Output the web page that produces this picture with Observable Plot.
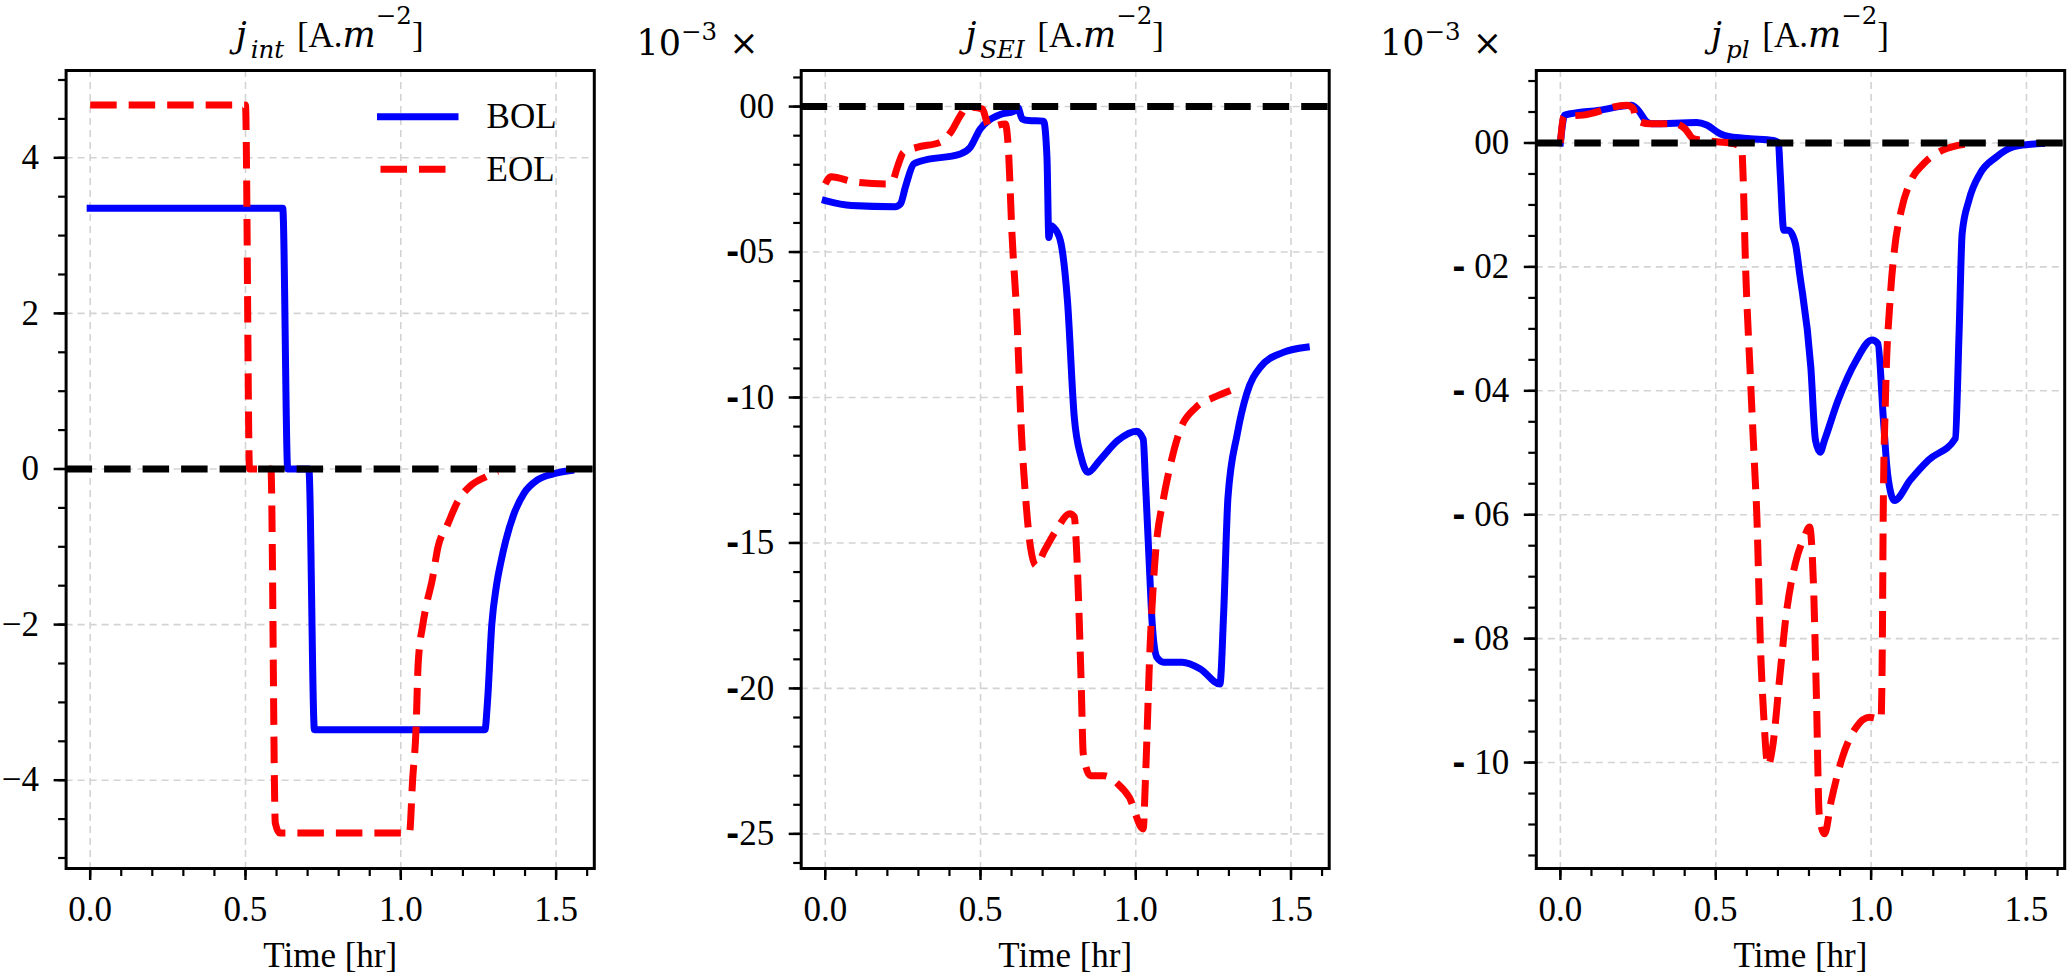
<!DOCTYPE html>
<html>
<head>
<meta charset="utf-8">
<script src="https://cdn.jsdelivr.net/npm/d3@7"></script>
<script src="https://cdn.jsdelivr.net/npm/@observablehq/plot@0.6"></script>
<style>
  html, body { margin: 0; padding: 0; background: #ffffff; }
  #wrap { position: relative; width: 2067px; height: 976px; overflow: hidden; background: #ffffff; }
  #wrap svg { position: absolute; top: 0; }
</style>
</head>
<body>
<div id="wrap"></div>
<script>
// ---------------- data ----------------
const seriesNames = ["BOL", "EOL"];

// Panel 1 : j_int [A.m^-2]
const intBOL_t = [0, 0.62, 0.636, 0.704, 0.722, 1.0, 1.271, 1.279, 1.293, 1.308, 1.322, 1.338, 1.365, 1.397, 1.44, 1.494, 1.547];
const intBOL_v = [3.35, 3.35, 0, 0, -3.35, -3.35, -3.35, -3.0, -2.0, -1.5, -1.2, -0.92, -0.57, -0.31, -0.14, -0.06, -0.02];
const intEOL_t = [0, 0.50, 0.513, 0.582, 0.596, 0.61, 1.028, 1.038, 1.049, 1.056, 1.071, 1.085, 1.10, 1.12, 1.15, 1.183, 1.226, 1.274, 1.312];
const intEOL_v = [4.68, 4.68, 0, 0, -4.55, -4.68, -4.68, -4.0, -3.35, -2.5, -2.0, -1.7, -1.45, -1.0, -0.72, -0.42, -0.21, -0.10, -0.03];

// Panel 2 : j_SEI [A.m^-2]  (x 10^-3)
const seiBOL_t = [0, 0.084, 0.225, 0.242, 0.258, 0.285, 0.306, 0.435, 0.467, 0.499, 0.526, 0.564, 0.607, 0.62, 0.634, 0.655, 0.703, 0.714, 0.72, 0.727, 0.735, 0.757, 0.78, 0.802, 0.824, 0.846, 0.883, 0.942, 1.002, 1.024, 1.031, 1.046, 1.053, 1.068, 1.09, 1.149, 1.208, 1.271, 1.283, 1.297, 1.327, 1.357, 1.401, 1.475, 1.549];
const seiBOL_v = [-3.23, -3.40, -3.44, -3.35, -2.77, -1.97, -1.88, -1.63, -1.40, -0.77, -0.48, -0.27, -0.16, -0.03, -0.42, -0.48, -0.50, -1.74, -4.5, -4.1, -4.15, -4.6, -6.67, -10.68, -12.05, -12.57, -12.17, -11.48, -11.16, -11.43, -12.86, -16.3, -17.78, -18.93, -19.1, -19.1, -19.33, -19.85, -17.44, -13.43, -11.25, -9.88, -8.96, -8.45, -8.27];
const seiEOL_t = [0, 0.018, 0.099, 0.195, 0.215, 0.232, 0.252, 0.295, 0.37, 0.408, 0.435, 0.457, 0.505, 0.528, 0.58, 0.59, 0.601, 0.617, 0.632, 0.646, 0.661, 0.679, 0.706, 0.743, 0.787, 0.802, 0.809, 0.824, 0.831, 0.854, 0.898, 0.942, 0.979, 1.024, 1.031, 1.046, 1.061, 1.09, 1.105, 1.142, 1.194, 1.253, 1.305];
const seiEOL_v = [-2.66, -2.41, -2.6, -2.66, -2.6, -2.09, -1.57, -1.40, -1.23, -0.82, -0.31, -0.02, -0.08, -0.7, -0.6, -1.51, -4.3, -7.24, -11.25, -13.54, -15.15, -15.78, -15.26, -14.58, -14.0, -14.1, -15.15, -19.73, -22.25, -23.0, -23.0, -23.28, -23.74, -24.83, -23.17, -18.59, -15.72, -13.43, -12.63, -11.14, -10.34, -9.99, -9.76];

// Panel 3 : j_pl [A.m^-2]  (x 10^-3)
const plBOL_t = [0, 0.014, 0.127, 0.229, 0.25, 0.278, 0.294, 0.439, 0.471, 0.514, 0.546, 0.611, 0.686, 0.702, 0.707, 0.719, 0.734, 0.756, 0.77, 0.806, 0.821, 0.836, 0.85, 0.894, 0.952, 1.003, 1.022, 1.039, 1.053, 1.075, 1.126, 1.184, 1.271, 1.283, 1.293, 1.315, 1.351, 1.402, 1.46, 1.548];
const plBOL_v = [0, 0.45, 0.53, 0.61, 0.53, 0.34, 0.31, 0.33, 0.29, 0.15, 0.10, 0.07, 0.04, 0, -0.44, -1.41, -1.41, -1.62, -2.11, -3.62, -4.8, -4.99, -4.8, -4.15, -3.51, -3.18, -3.24, -4.42, -5.34, -5.77, -5.44, -5.12, -4.77, -3.08, -1.46, -0.92, -0.49, -0.23, -0.06, -0.01];
const plEOL_t = [0, 0.011, 0.073, 0.213, 0.234, 0.245, 0.288, 0.369, 0.401, 0.428, 0.503, 0.557, 0.584, 0.587, 0.596, 0.61, 0.625, 0.632, 0.644, 0.654, 0.668, 0.683, 0.705, 0.727, 0.756, 0.785, 0.802, 0.814, 0.824, 0.833, 0.85, 0.872, 0.908, 0.952, 0.995, 1.032, 1.036, 1.039, 1.046, 1.061, 1.075, 1.097, 1.126, 1.17, 1.228, 1.315];
const plEOL_v = [0, 0.43, 0.45, 0.61, 0.56, 0.37, 0.31, 0.31, 0.23, 0.07, 0.02, -0.01, -0.09, -0.39, -2.0, -3.62, -5.23, -5.98, -8.14, -9.21, -10.05, -9.75, -8.67, -7.6, -6.79, -6.36, -6.2, -7.06, -8.94, -10.83, -11.15, -10.61, -9.91, -9.43, -9.27, -9.3, -8.14, -5.98, -4.15, -2.54, -1.73, -1.09, -0.63, -0.33, -0.12, -0.01];

// ticks and tick labels
const xMajorTicks = [0, 0.5, 1.0, 1.5];
const xMajorLabels = ["0.0", "0.5", "1.0", "1.5"];
const xMinorTicks = [0, 0.1, 0.2, 0.3, 0.4, 0.5, 0.6, 0.7, 0.8, 0.9, 1.0, 1.1, 1.2, 1.3, 1.4, 1.5, 1.6];
const xLabel = "Time [hr]";

const intYTicks = [4, 2, 0, -2, -4];
const intYLabels = ["4", "2", "0", "\u22122", "\u22124"];
const intYMinor = [5, 4.5, 4, 3.5, 3, 2.5, 2, 1.5, 1, 0.5, 0, -0.5, -1, -1.5, -2, -2.5, -3, -3.5, -4, -4.5, -5];

const seiYTicks = [0, -5, -10, -15, -20, -25];
const seiYLabels = ["00", "-05", "-10", "-15", "-20", "-25"];
const seiYMinor = [1, 0, -1, -2, -3, -4, -5, -6, -7, -8, -9, -10, -11, -12, -13, -14, -15, -16, -17, -18, -19, -20, -21, -22, -23, -24, -25, -26];

const plYTicks = [0, -2, -4, -6, -8, -10];
const plYLabels = ["00", "- 02", "- 04", "- 06", "- 08", "- 10"];
const plYMinor = [1, 0.5, 0, -0.5, -1, -1.5, -2, -2.5, -3, -3.5, -4, -4.5, -5, -5.5, -6, -6.5, -7, -7.5, -8, -8.5, -9, -9.5, -10, -10.5, -11, -11.5];

// ---------------- drawing ----------------
const SERIF = "'Liberation Serif', 'Times New Roman', serif";
const MATH = "'DejaVu Serif', serif";
const FS = 35;
const TOP = 70, BOTTOM = 868, H = 976;
const xDomain = [-0.0775, 1.623];
const colors = {BOL: "#0000ff", EOL: "#ff0000"};
const LW = 7;
const DASH = "26.5,12";

function toRows(ts, vs) { return ts.map((t, i) => ({t, v: vs[i]})); }

function makePanel(cfg) {
  const labelOf = new Map(cfg.yTicks.map((d, i) => [d, cfg.yLabels[i]]));
  const xLabelOf = new Map(xMajorTicks.map((d, i) => [d, xMajorLabels[i]]));
  const grid = {stroke: "#d3d3d3", strokeOpacity: 1, strokeWidth: 1.6, strokeDasharray: "7,5"};
  const svg = Plot.plot({
    width: cfg.width,
    height: H,
    marginLeft: cfg.frameL - cfg.left,
    marginRight: cfg.left + cfg.width - cfg.frameR,
    marginTop: TOP,
    marginBottom: H - BOTTOM,
    x: {domain: xDomain},
    y: {domain: cfg.yDomain},
    style: {fontFamily: SERIF, fontSize: FS + "px", background: "transparent", overflow: "visible", color: "black"},
    marks: [
      Plot.gridX(xMajorTicks, grid),
      Plot.gridY(cfg.yTicks, grid),
      Plot.line(toRows(cfg.bolT, cfg.bolV), {x: "t", y: "v", curve: "monotone-x", stroke: colors.BOL, strokeWidth: LW, strokeLinejoin: "round", strokeLinecap: "square"}),
      Plot.line(toRows(cfg.eolT, cfg.eolV), {x: "t", y: "v", curve: "monotone-x", stroke: colors.EOL, strokeWidth: LW, strokeLinejoin: "round", strokeLinecap: "butt", strokeDasharray: DASH}),
      Plot.ruleY([0], {stroke: "black", strokeWidth: LW, strokeDasharray: DASH, strokeLinecap: "butt"}),
      Plot.frame({stroke: "black", strokeWidth: 3}),
      Plot.axisX(xMinorTicks, {tickSize: 8, strokeWidth: 2.2, tickFormat: () => "", label: null}),
      Plot.axisX(xMajorTicks, {tickSize: 12, strokeWidth: 2.5, tickFormat: () => "", label: null}),
      Plot.text(xMajorTicks, {x: d => d, text: d => xLabelOf.get(d), frameAnchor: "bottom", lineAnchor: "middle", dy: 41, fontSize: FS, fill: "black"}),
      Plot.axisY(cfg.yMinor, {tickSize: 7.5, strokeWidth: 2.2, tickFormat: () => "", label: null}),
      Plot.axisY(cfg.yTicks, {tickSize: 12, tickPadding: 15, strokeWidth: 2.5, tickFormat: d => labelOf.get(d), fontSize: FS, label: null}),
      Plot.text([xLabel], {frameAnchor: "bottom", lineAnchor: "middle", dy: 87, fontSize: FS, fill: "black"})
    ]
  });
  svg.style.left = cfg.left + "px";
  const s = d3.select(svg);

  // bold dash in the tick labels (as in the reference)
  s.selectAll("text").each(function () {
    const txt = this.textContent;
    if (/^-/.test(txt) && this.childElementCount === 0) {
      const el = d3.select(this);
      el.text(null).style("white-space", "pre");
      el.append("tspan").attr("font-family", "'DejaVu Sans', sans-serif").attr("font-weight", "bold").attr("font-size", 32).text("-");
      el.append("tspan").text(txt.slice(1));
    }
  });

  // title :  j_sub [A.m^-2]
  const cx = (cfg.frameL + cfg.frameR) / 2 - cfg.left;
  const t = s.append("text").attr("x", cx).attr("y", 47).attr("text-anchor", "middle")
    .attr("font-family", SERIF).attr("font-size", FS).attr("fill", "black").style("white-space", "pre");
  t.append("tspan").attr("font-family", MATH).attr("font-style", "italic").text("j");
  t.append("tspan").attr("font-family", MATH).attr("font-style", "italic").attr("font-size", 24.5).attr("dx", 4).attr("dy", 11).text(cfg.sub);
  t.append("tspan").attr("dy", -11).attr("dx", 4).text(" [A.");
  t.append("tspan").attr("font-family", MATH).attr("font-style", "italic").text("m");
  t.append("tspan").attr("font-family", MATH).attr("font-size", 24.5).attr("dy", -23).text("\u22122");
  t.append("tspan").attr("dy", 23).text("]");

  // offset text 10^-3 x
  if (cfg.offsetX != null) {
    const o = s.append("text").attr("x", cfg.offsetX - cfg.left).attr("y", 55).attr("text-anchor", "start")
      .attr("font-family", MATH).attr("font-size", FS).attr("fill", "black").style("white-space", "pre");
    o.append("tspan").text("10");
    o.append("tspan").attr("dy", -15).attr("font-size", 24.5).text("\u22123");
    o.append("tspan").attr("dy", 15).attr("dx", 12).text("\u00d7");
  }
  return s;
}

const wrap = document.getElementById("wrap");

const p1 = makePanel({
  left: 0, width: 620, frameL: 65.6, frameR: 593.8,
  yDomain: [-5.135, 5.122], yTicks: intYTicks, yLabels: intYLabels, yMinor: intYMinor,
  bolT: intBOL_t, bolV: intBOL_v, eolT: intEOL_t, eolV: intEOL_v, sub: "int", offsetX: null
});
const p2 = makePanel({
  left: 620, width: 720, frameL: 800.7, frameR: 1328.7,
  yDomain: [-26.19, 1.24], yTicks: seiYTicks, yLabels: seiYLabels, yMinor: seiYMinor,
  bolT: seiBOL_t, bolV: seiBOL_v, eolT: seiEOL_t, eolV: seiEOL_v, sub: "SEI", offsetX: 636.5
});
const p3 = makePanel({
  left: 1340, width: 727, frameL: 1535.8, frameR: 2064.2,
  yDomain: [-11.71, 1.17], yTicks: plYTicks, yLabels: plYLabels, yMinor: plYMinor,
  bolT: plBOL_t, bolV: plBOL_v, eolT: plEOL_t, eolV: plEOL_v, sub: "pl", offsetX: 1380
});
wrap.appendChild(p1.node());
wrap.appendChild(p2.node());
wrap.appendChild(p3.node());

// legend (panel 1, upper right inside the frame)
const leg = p1.append("g").attr("font-family", SERIF).attr("font-size", FS).attr("fill", "black").attr("text-anchor", "start");
const legRows = [
  {name: seriesNames[0], y: 116.7, dash: null, cap: "square"},
  {name: seriesNames[1], y: 169.3, dash: DASH, cap: "butt"}
];
legRows.forEach(r => {
  leg.append("line").attr("x1", 380.5).attr("x2", 455).attr("y1", r.y).attr("y2", r.y)
    .attr("stroke", colors[r.name]).attr("stroke-width", LW).attr("stroke-linecap", r.cap)
    .attr("stroke-dasharray", r.dash);
  leg.append("text").attr("x", 486.6).attr("y", r.y + 11.6).attr("text-anchor", "start").text(r.name);
});
</script>
</body>
</html>
